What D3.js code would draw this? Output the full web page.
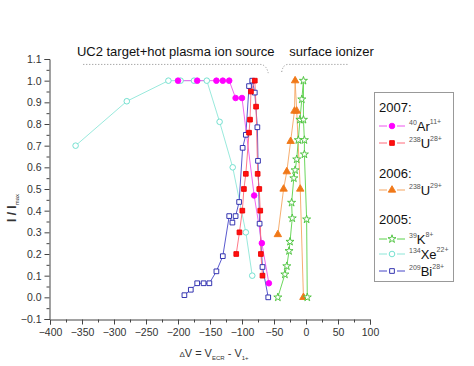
<!DOCTYPE html>
<html>
<head>
<meta charset="utf-8">
<script src="https://cdn.jsdelivr.net/npm/d3@7"></script>
<style>
  body { margin: 0; background: #fff; }
  svg { font-family: "Liberation Sans", Arial, sans-serif; }
</style>
</head>
<body>
<svg width="474" height="366"></svg>
<script>
// [dV, I/Imax]
const ar11_2007 = [[-200, 1.0], [-170, 1.0], [-140, 1.0], [-130, 1.0], [-120, 1.0], [-110, 0.92], [-100, 0.92], [-81, 0.47], [-69, 0.25], [-58, 0.065]]
const u28_2007 = [[-109, 0.2], [-104, 0.3], [-99.5, 0.4], [-97, 0.5], [-94, 0.57], [-89, 0.76], [-87.5, 0.82], [-86, 0.95], [-80, 1.0],
  [-78, 0.88], [-75.5, 0.57], [-73, 0.5], [-71.5, 0.4], [-70.5, 0.2], [-68, 0.1]]
const u29_2006 = [[-44, 0.29], [-35, 0.5], [-30, 0.58], [-24, 0.72], [-18, 0.86], [-17, 1.0], [-14.5, 0.86], [-9, 0.5], [-4, 0.0]]
const k8_2005 = [[-44, 0.0], [-33, 0.106], [-30, 0.144], [-26.5, 0.214], [-25, 0.257], [-21.5, 0.365], [-22.5, 0.437], [-19, 0.55], [-17, 0.587],
  [-14.5, 0.637], [-12, 0.726], [-9.5, 0.82], [-6.5, 0.914], [-4, 1.0], [-4, 0.82], [-2.5, 0.726], [-2.5, 0.66], [1, 0.36], [2, 0.0]]
const xe22_2005 = [[-360, 0.7], [-280, 0.905], [-215, 1.0], [-196, 1.0], [-175, 1.0], [-155, 1.0], [-135, 0.81], [-114.5, 0.6], [-94, 0.3], [-84, 0.1]]
const bi28_2005 = [[-190, 0.01], [-180, 0.035], [-170, 0.065], [-160, 0.065], [-151, 0.065], [-140, 0.12], [-130, 0.19], [-120, 0.375],
  [-115, 0.345], [-110, 0.375], [-104.5, 0.44], [-99, 0.69], [-94, 0.75], [-89, 0.975], [-84, 1.0],
  [-80, 0.945], [-76, 0.785], [-75, 0.63], [-72.5, 0.34], [-68, 0.14], [-59, 0.0]]

const xTicks = d3.range(-400, 101, 50)
const yTicks = d3.range(-0.1, 1.1001, 0.1)

const svg = d3.select('svg')
const x = d3.scaleLinear().domain([-400, 100]).range([50, 370])
const y = d3.scaleLinear().domain([-0.1, 1.1]).range([319, 59])

const series = [
  { data: xe22_2005, line: '#8de6d8', stroke: '#66dccb', fill: 'white', type: 'circle' },
  { data: bi28_2005, line: '#4646c8', stroke: '#2020a8', fill: 'white', type: 'square' },
  { data: ar11_2007, line: '#ee55ee', stroke: '#ff00ff', fill: '#ff00ff', type: 'circle' },
  { data: u28_2007, line: '#ff6a7a', stroke: '#ee0000', fill: '#ff1010', type: 'square' },
  { data: u29_2006, line: '#f5a560', stroke: '#f07818', fill: '#f07818', type: 'triangle' },
  { data: k8_2005, line: '#5ad24a', stroke: '#44c034', fill: 'white', type: 'star' }
]

const symbolType = { square: d3.symbolSquare, triangle: d3.symbolTriangle, star: d3.symbolStar }
const symbolSize = { square: 22, triangle: 24, star: 20 }

function drawMarker(g, type, stroke, fill) {
  if (type === 'circle') {
    g.append('circle').attr('r', 2.8)
  } else {
    g.append('path').attr('d', d3.symbol(symbolType[type], symbolSize[type])())
  }
  g.selectAll('*').attr('fill', fill).attr('stroke', stroke).attr('stroke-width', 0.9)
}

// axes
const xAxis = svg.append('g').attr('transform', 'translate(0,319.5)')
xAxis.call(d3.axisBottom(x).tickValues(xTicks).tickSize(5).tickFormat(d3.format('d')))
svg.append('g').attr('transform', 'translate(0,319.5)')
  .call(d3.axisBottom(x).tickValues(d3.range(-375, 100, 50)).tickSize(3).tickFormat(''))
  .select('.domain').remove()

const yAxis = svg.append('g').attr('transform', 'translate(49.5,0)')
yAxis.call(d3.axisLeft(y).tickValues(yTicks).tickSize(5).tickFormat(d3.format('.1f')))
svg.append('g').attr('transform', 'translate(49.5,0)')
  .call(d3.axisLeft(y).tickValues(d3.range(-0.05, 1.1, 0.1)).tickSize(3).tickFormat(''))
  .select('.domain').remove()

svg.selectAll('.domain, .tick line').attr('stroke', '#444')
svg.selectAll('.tick text').attr('fill', '#333').attr('font-size', 10.5)
  .attr('font-family', '"Liberation Sans", Arial, sans-serif')
yAxis.selectAll('.tick text').attr('x', -8)
xAxis.selectAll('.tick text').attr('y', 9)

// axis titles
const xTitle = svg.append('text').attr('x', 214).attr('y', 357).attr('text-anchor', 'middle')
  .attr('font-size', 11).attr('fill', '#333')
xTitle.append('tspan').attr('font-size', 8).text('\u0394')
xTitle.append('tspan').text('V  =  V')
xTitle.append('tspan').attr('font-size', 6).attr('dy', 3).text('ECR')
xTitle.append('tspan').attr('dy', -3).text(' - V')
xTitle.append('tspan').attr('font-size', 6).attr('dy', 3).text('1+')

const yTitle = svg.append('text').attr('transform', 'translate(16,208) rotate(-90)')
  .attr('text-anchor', 'middle').attr('font-size', 12).attr('font-weight', 'bold').attr('fill', '#333')
yTitle.append('tspan').text('I / I')
yTitle.append('tspan').attr('font-size', 6).attr('font-weight', 'normal').attr('dy', 3).text('max')

// annotations
svg.append('text').attr('x', x(-358)).attr('y', y(1.113)).attr('font-size', 13).attr('fill', '#111')
  .text('UC2 target+hot plasma ion source')
svg.append('text').attr('x', x(-26)).attr('y', y(1.113)).attr('font-size', 13).attr('fill', '#111')
  .text('surface ionizer')

const dotted = { fill: 'none', stroke: '#888', 'stroke-width': 1, 'stroke-dasharray': '1,2' }
const p1 = d3.path()
p1.moveTo(x(-348), y(1.075)); p1.lineTo(x(-72), y(1.075))
p1.quadraticCurveTo(x(-62), y(1.075), x(-59), y(1.035))
const p2 = d3.path()
p2.moveTo(x(-38), y(1.04)); p2.quadraticCurveTo(x(-36), y(1.075), x(-28), y(1.075)); p2.lineTo(x(65), y(1.075))
;[p1, p2].forEach(p => {
  const el = svg.append('path').attr('d', p.toString())
  Object.entries(dotted).forEach(([k, v]) => el.attr(k, v))
})

// data
const line = d3.line().x(d => x(d[0])).y(d => y(d[1]))
series.forEach(s => {
  svg.append('path').datum(s.data).attr('d', line)
    .attr('fill', 'none').attr('stroke', s.line).attr('stroke-width', 0.9)
})
series.forEach(s => {
  svg.append('g').selectAll('g').data(s.data).join('g')
    .attr('transform', d => `translate(${x(d[0])},${y(d[1])})`)
    .each(function () { drawMarker(d3.select(this), s.type, s.stroke, s.fill) })
})

// legend
const legend = svg.append('g')
legend.append('rect').attr('x', 374.5).attr('y', 92.5).attr('width', 79).attr('height', 189)
  .attr('fill', 'white').attr('stroke', '#999')

const legendRows = [
  { y: 107, head: '2007:' },
  { y: 126, s: series[2], pre: '40', main: 'Ar', post: '11+' },
  { y: 143, s: series[3], pre: '238', main: 'U', post: '28+' },
  { y: 173, head: '2006:' },
  { y: 190, s: series[4], pre: '238', main: 'U', post: '29+' },
  { y: 219, head: '2005:' },
  { y: 239, s: series[5], pre: '39', main: 'K', post: '8+' },
  { y: 254, s: series[0], pre: '134', main: 'Xe', post: '22+' },
  { y: 271, s: series[1], pre: '209', main: 'Bi', post: '28+' }
]

legendRows.forEach(r => {
  if (r.head) {
    legend.append('text').attr('x', 379).attr('y', r.y + 5).attr('font-size', 13).attr('fill', '#111').text(r.head)
    return
  }
  legend.append('line').attr('x1', 379).attr('x2', 387).attr('y1', r.y).attr('y2', r.y).attr('stroke', r.s.line)
  legend.append('line').attr('x1', 397).attr('x2', 405).attr('y1', r.y).attr('y2', r.y).attr('stroke', r.s.line)
  drawMarker(legend.append('g').attr('transform', `translate(392,${r.y})`), r.s.type, r.s.stroke, r.s.fill)
  const t = legend.append('text').attr('x', 409).attr('y', r.y + 5).attr('fill', '#111').attr('font-size', 13)
  t.append('tspan').attr('font-size', 7).attr('fill', '#555').attr('dy', -6).text(r.pre)
  t.append('tspan').attr('dy', 6).text(r.main)
  t.append('tspan').attr('font-size', 7).attr('fill', '#555').attr('dy', -7).text(r.post)
})
</script>
</body>
</html>
